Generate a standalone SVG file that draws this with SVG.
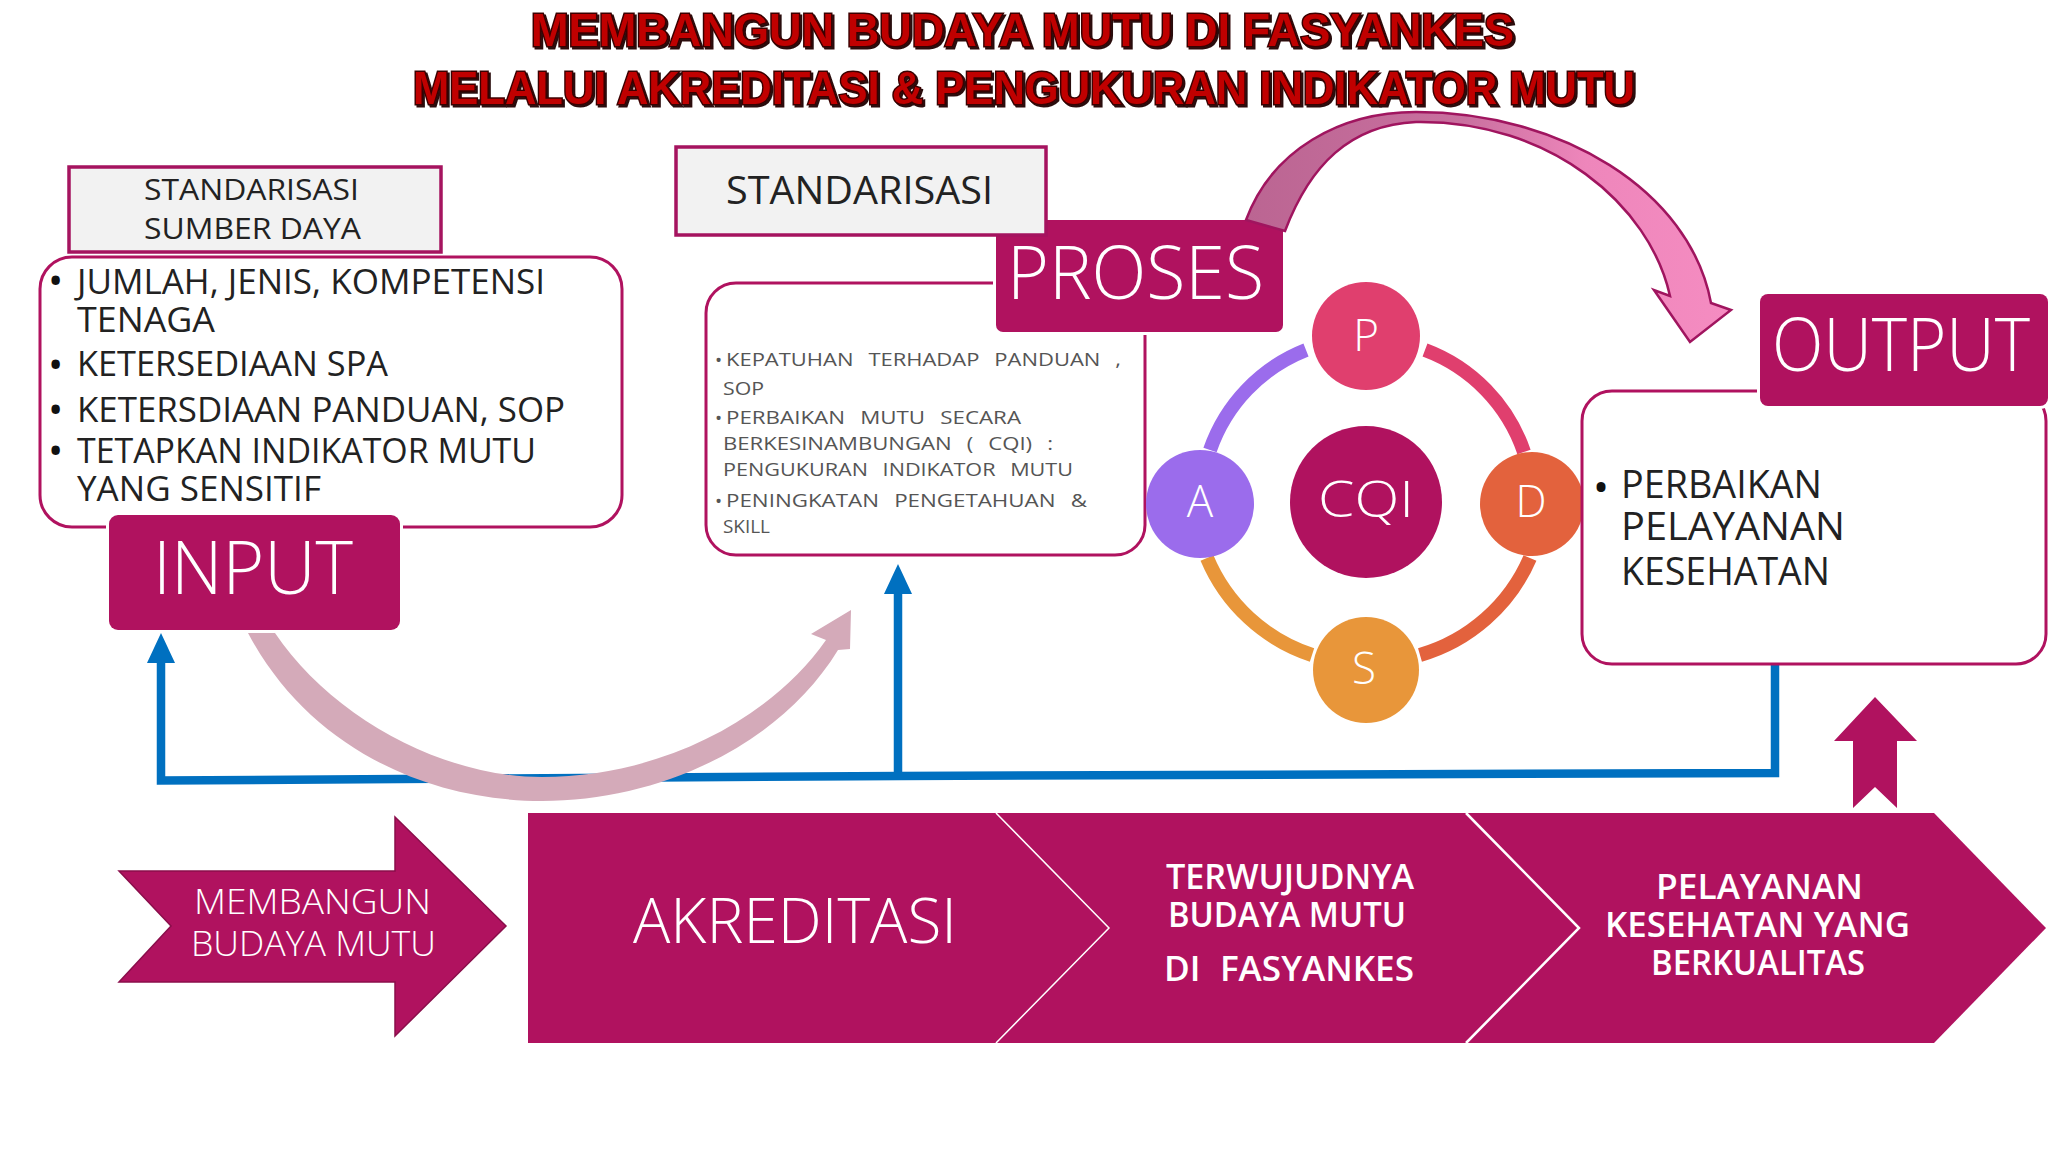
<svg xmlns="http://www.w3.org/2000/svg" width="2048" height="1152" viewBox="0 0 2048 1152">
<style>
text{font-family:"Open Sans","Liberation Sans",sans-serif;font-weight:300}
.t{font-family:"Liberation Sans",Arial,sans-serif;font-weight:700;font-size:46px;fill:#c00000;stroke:#3a0505;stroke-width:3px;paint-order:stroke;filter:url(#sh)}
.d{fill:#222;font-weight:400}
.b{fill:#111;font-weight:700}
.w{fill:#fff}
.wb{fill:#fff;font-weight:600;font-size:34px}
.m{fill:#555;font-weight:400;font-size:19px}
.panel{fill:#fff;stroke:#b0125f;stroke-width:3}
.std{fill:#f2f2f2;stroke:#a5135f;stroke-width:3.5}
.lab{fill:#b0125f;stroke:#fff;stroke-width:6;paint-order:stroke}
.blue{fill:none;stroke:#0070c0;stroke-width:8.5}
.ah{fill:#0070c0}
.ring{fill:none;stroke-width:14}
</style>
<defs>
<filter id="sh" x="-5%" y="-20%" width="110%" height="140%"><feDropShadow dx="2" dy="2" stdDeviation="0.6" flood-color="#2a0a0a"/></filter>
<linearGradient id="cg" x1="0" y1="0" x2="1" y2="0"><stop offset="0" stop-color="#bb6592"/><stop offset="0.45" stop-color="#c9709f"/><stop offset="0.7" stop-color="#ee86bb"/><stop offset="1" stop-color="#f58cc1"/></linearGradient>
</defs>
<rect width="2048" height="1152" fill="#fff"/>
<g id="title">
<text class="t" x="531" y="46" textLength="983" lengthAdjust="spacingAndGlyphs">MEMBANGUN BUDAYA MUTU DI FASYANKES</text>
<text class="t" x="413" y="104" textLength="1222" lengthAdjust="spacingAndGlyphs">MELALUI AKREDITASI &amp; PENGUKURAN INDIKATOR MUTU</text>
</g>
<g id="connectors">
<path class="blue" d="M161 660V780.5L900 776L1775 773V664"/>
<path class="blue" d="M898 590V776"/>
<path class="ah" d="M161 633L175 663H147Z"/>
<path class="ah" d="M898 564L912 594H884Z"/>
<path fill="#d4aab9" d="M248 633L275 633C330 715 440 777 542 777C660 777 770 720 826 640L811 634L851 610L850 649L838 650C780 745 660 801 542 801C430 801 310 750 248 633Z"/>
</g>
<g id="input-panel">
<rect class="panel" x="40" y="257" width="582" height="270" rx="32"/>
<text class="b" x="50" y="291" font-size="30">•</text>
<text class="d" x="77" y="294" font-size="34" textLength="468" lengthAdjust="spacingAndGlyphs">JUMLAH, JENIS, KOMPETENSI</text>
<text class="d" x="77" y="332" font-size="34" textLength="138" lengthAdjust="spacingAndGlyphs">TENAGA</text>
<text class="b" x="50" y="375" font-size="30">•</text>
<text class="d" x="77" y="376" font-size="34" textLength="311" lengthAdjust="spacingAndGlyphs">KETERSEDIAAN SPA</text>
<text class="b" x="50" y="420" font-size="30">•</text>
<text class="d" x="77" y="422" font-size="34" textLength="488" lengthAdjust="spacingAndGlyphs">KETERSDIAAN PANDUAN, SOP</text>
<text class="b" x="50" y="461" font-size="30">•</text>
<text class="d" x="77" y="463" font-size="34" textLength="459" lengthAdjust="spacingAndGlyphs">TETAPKAN INDIKATOR MUTU</text>
<text class="d" x="77" y="501" font-size="34" textLength="244" lengthAdjust="spacingAndGlyphs">YANG SENSITIF</text>
</g>
<g id="standarisasi-sumber-daya">
<rect class="std" x="69" y="167" width="372" height="85"/>
<text class="d" x="144" y="200" font-size="29" textLength="215" lengthAdjust="spacingAndGlyphs">STANDARISASI</text>
<text class="d" x="144" y="239" font-size="29" textLength="217" lengthAdjust="spacingAndGlyphs">SUMBER DAYA</text>
</g>
<g id="input">
<rect class="lab" x="109" y="515" width="291" height="115" rx="9"/>
<text class="w" x="153" y="594" font-size="74" textLength="200" lengthAdjust="spacingAndGlyphs">INPUT</text>
</g>
<g id="proses-panel">
<rect class="panel" x="706" y="283" width="439" height="272" rx="30"/>
<text class="m" x="715" y="367">•</text>
<text class="m" x="726" y="366" textLength="395" lengthAdjust="spacingAndGlyphs" word-spacing="8">KEPATUHAN TERHADAP PANDUAN ,</text>
<text class="m" x="723" y="395" textLength="41" lengthAdjust="spacingAndGlyphs">SOP</text>
<text class="m" x="715" y="425">•</text>
<text class="m" x="726" y="424" textLength="295" lengthAdjust="spacingAndGlyphs" word-spacing="8">PERBAIKAN MUTU SECARA</text>
<text class="m" x="723" y="450" textLength="330" lengthAdjust="spacingAndGlyphs" word-spacing="8">BERKESINAMBUNGAN ( CQI) :</text>
<text class="m" x="723" y="476" textLength="350" lengthAdjust="spacingAndGlyphs" word-spacing="8">PENGUKURAN INDIKATOR MUTU</text>
<text class="m" x="715" y="508">•</text>
<text class="m" x="726" y="507" textLength="361" lengthAdjust="spacingAndGlyphs" word-spacing="8">PENINGKATAN PENGETAHUAN &amp;</text>
<text class="m" x="723" y="533" textLength="47" lengthAdjust="spacingAndGlyphs">SKILL</text>
</g>
<g id="proses">
<rect class="lab" x="996" y="220" width="287" height="112" rx="7"/>
<text class="w" x="1007" y="299" font-size="74" textLength="257" lengthAdjust="spacingAndGlyphs">PROSES</text>
</g>
<g id="standarisasi">
<rect class="std" x="676" y="147" width="370" height="88"/>
<text class="d" x="726" y="204" font-size="38" textLength="267" lengthAdjust="spacingAndGlyphs">STANDARISASI</text>
</g>
<g id="connector-proses-output">
<path fill="url(#cg)" stroke="#a0155f" stroke-width="2.5" d="M1246 220C1272 150 1340 112 1416 112C1560 112 1690 190 1711 303L1731 310L1690 342L1654 290L1670 296C1650 205 1550 120 1416 122C1350 125 1310 165 1285 231Z"/>
</g>
<g id="cqi-cycle">
<path class="ring" stroke="#9b6cec" d="M1306 350A166 166 0 0 0 1210 450"/>
<path class="ring" stroke="#e03f6e" d="M1425 350A166 166 0 0 1 1524 452"/>
<path class="ring" stroke="#e3623d" d="M1530 558A172 172 0 0 1 1420 655"/>
<path class="ring" stroke="#e8963a" d="M1312 655A172 172 0 0 1 1207 558"/>
<g id="p"><circle cx="1366" cy="336" r="54" fill="#e03f6e"/><text class="w" x="1366" y="351" font-size="44" text-anchor="middle">P</text></g>
<g id="d"><circle cx="1532" cy="504" r="52" fill="#e3623d"/><text class="w" x="1531" y="517" font-size="44" text-anchor="middle">D</text></g>
<g id="s"><circle cx="1366" cy="670" r="53" fill="#e8963a"/><text class="w" x="1364" y="684" font-size="44" text-anchor="middle">S</text></g>
<g id="a"><circle cx="1200" cy="504" r="54" fill="#9b6cec"/><text class="w" x="1200" y="517" font-size="44" text-anchor="middle">A</text></g>
<g id="cqi"><circle cx="1366" cy="502" r="76" fill="#b0125f"/><text class="w" x="1318" y="517" font-size="50" textLength="96" lengthAdjust="spacingAndGlyphs">CQI</text></g>
</g>
<g id="output-panel">
<rect class="panel" x="1582" y="391" width="464" height="273" rx="30"/>
<text class="b" x="1595" y="499" font-size="32">•</text>
<text class="d" x="1621" y="498" font-size="39" textLength="201" lengthAdjust="spacingAndGlyphs">PERBAIKAN</text>
<text class="d" x="1621" y="540" font-size="39" textLength="224" lengthAdjust="spacingAndGlyphs">PELAYANAN</text>
<text class="d" x="1621" y="585" font-size="39" textLength="209" lengthAdjust="spacingAndGlyphs">KESEHATAN</text>
</g>
<g id="output">
<rect class="lab" x="1760" y="294" width="288" height="112" rx="8"/>
<text class="w" x="1772" y="371" font-size="74" textLength="258" lengthAdjust="spacingAndGlyphs">OUTPUT</text>
</g>
<g id="membangun">
<path fill="#b0125f" stroke="#8a0e4b" stroke-width="1.5" d="M119 871H395V817L506 926L395 1036V982H119L171 926Z"/>
<text class="w" x="194" y="914" font-size="35" textLength="237" lengthAdjust="spacingAndGlyphs">MEMBANGUN</text>
<text class="w" x="191" y="956" font-size="35" textLength="245" lengthAdjust="spacingAndGlyphs">BUDAYA MUTU</text>
</g>
<g id="up-arrow">
<path fill="#b0125f" d="M1875 697L1917 741H1897V808L1875 787L1853 808V741H1834Z"/>
</g>
<g id="chevrons">
<path fill="#b0125f" d="M528 813H1934L2046 928L1934 1043H528Z"/>
<path fill="none" stroke="#fff" stroke-width="1.5" d="M996 813L1109 928L996 1043"/>
<path fill="none" stroke="#fff" stroke-width="2.5" d="M1466 813L1579 928L1466 1043"/>
<g id="akreditasi"><text class="w" x="633" y="943" font-size="62" textLength="324" lengthAdjust="spacingAndGlyphs">AKREDITASI</text></g>
<g id="budaya"><text class="wb" x="1166" y="889" textLength="248" lengthAdjust="spacingAndGlyphs">TERWUJUDNYA</text>
<text class="wb" x="1168" y="927" textLength="238" lengthAdjust="spacingAndGlyphs">BUDAYA MUTU</text>
<text class="wb" x="1164" y="981" textLength="250" lengthAdjust="spacingAndGlyphs" word-spacing="10">DI FASYANKES</text></g>
<g id="pelayanan"><text class="wb" x="1656" y="899" textLength="207" lengthAdjust="spacingAndGlyphs">PELAYANAN</text>
<text class="wb" x="1605" y="937" textLength="305" lengthAdjust="spacingAndGlyphs">KESEHATAN YANG</text>
<text class="wb" x="1651" y="975" textLength="214" lengthAdjust="spacingAndGlyphs">BERKUALITAS</text></g>
</g>
</svg>
